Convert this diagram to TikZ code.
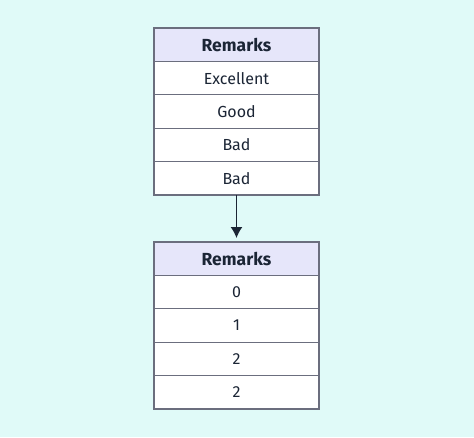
\documentclass[tikz,border=0pt]{standalone}
\usepackage{fontspec}
\setmainfont{Fira Sans}
\usetikzlibrary{positioning,arrows.meta}
\definecolor{bgcyan}{HTML}{E0FAF8}
\definecolor{headlav}{HTML}{E6E6FA}
\definecolor{edgegray}{HTML}{6B6E7E}
\definecolor{inkblue}{HTML}{1B2535}

\begin{document}
\begin{tikzpicture}[x=1pt,y=1pt,>={Latex[length=11pt,width=12pt]},
  cell/.style={draw=edgegray,line width=1.1pt,fill=white,minimum width=165pt,
    minimum height=33.4pt,inner sep=0pt,outer sep=0pt,
    font=\fontsize{16}{18}\selectfont,text=inkblue},
  head/.style={cell,fill=headlav,font=\fontsize{17.5}{19}\selectfont\bfseries}]
  \fill[bgcyan] (0,0) rectangle (474,-437);
  \useasboundingbox (0,0) rectangle (474,-437);
  % first table
  \node (h1) [head] at (236.5,-44.7) {Remarks};
  \node (a1) [cell,below =0pt of h1] {Excellent};
  \node (a2) [cell,below =0pt of a1] {Good};
  \node (a3) [cell,below =0pt of a2] {Bad};
  \node (a4) [cell,below =0pt of a3] {Bad};
  % second table
  \node (h2) [head,below =47pt of a4] {Remarks};
  \node (b1) [cell,below =0pt of h2] {0};
  \node (b2) [cell,below =0pt of b1] {1};
  \node (b3) [cell,below =0pt of b2] {2};
  \node (b4) [cell,below =0pt of b3] {2};
  \draw[->,inkblue,line width=1.3pt,shorten >=4pt](a4)--(h2);
\end{tikzpicture}
\end{document}
